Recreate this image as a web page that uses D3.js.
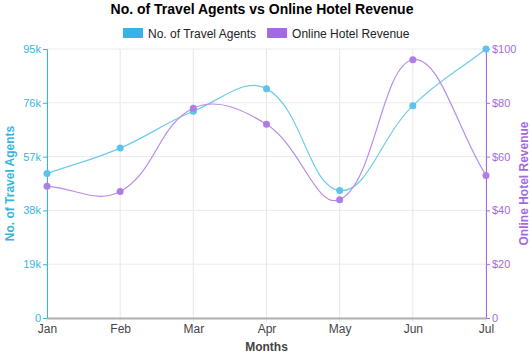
<!DOCTYPE html>
<html><head><meta charset="utf-8">
<script src="https://cdn.jsdelivr.net/npm/d3@7"></script>
<style>body{margin:0;background:#fff}svg{display:block;font-family:"Liberation Sans",Arial,sans-serif}</style>
</head><body><svg id="c" width="532" height="355"></svg>
<script>
const months = ["Jan","Feb","Mar","Apr","May","Jun","Jul"];
const agents = [51000, 60000, 73000, 81000, 45000, 75000, 95000];
const revenue = [49, 47, 78, 72, 44, 96, 53];
const agentTicks = [0, 19000, 38000, 57000, 76000, 95000];
const revenueTicks = [0, 20, 40, 60, 80, 100];

const W = 532, H = 355;
const m = {left: 47, right: 486, top: 49, bottom: 318};
const blue = "#36b5e2", purple = "#a36ae0";
const svg = d3.select("#c");

const x = d3.scalePoint().domain(months).range([m.left, m.right]);
const yL = d3.scaleLinear().domain([0, 95000]).range([m.bottom, m.top]);
const yR = d3.scaleLinear().domain([0, 100]).range([m.bottom, m.top]);

// grid
const g = svg.append("g");
g.selectAll("line.v").data(months).join("line")
  .attr("x1", d => x(d)).attr("x2", d => x(d)).attr("y1", m.top).attr("y2", m.bottom + 4)
  .attr("stroke", "#e6e6e6").attr("stroke-width", 1);
g.selectAll("line.h").data(agentTicks).join("line")
  .attr("x1", m.left).attr("x2", m.right).attr("y1", d => yL(d)).attr("y2", d => yL(d))
  .attr("stroke", "#ebebeb").attr("stroke-width", 1);

// chart.js-like spline
function spline(pts, t) {
  const p = d3.path();
  const n = pts.length;
  const cps = pts.map((c, i) => {
    const prev = pts[i - 1] || c, next = pts[i + 1] || c;
    const d01 = Math.hypot(c[0] - prev[0], c[1] - prev[1]);
    const d12 = Math.hypot(next[0] - c[0], next[1] - c[1]);
    let s01 = d01 / (d01 + d12), s12 = d12 / (d01 + d12);
    if (!isFinite(s01)) s01 = 0; if (!isFinite(s12)) s12 = 0;
    const fa = t * s01, fb = t * s12;
    return {
      px: c[0] - fa * (next[0] - prev[0]), py: c[1] - fa * (next[1] - prev[1]),
      nx: c[0] + fb * (next[0] - prev[0]), ny: c[1] + fb * (next[1] - prev[1])
    };
  });
  p.moveTo(pts[0][0], pts[0][1]);
  for (let i = 1; i < n; i++) {
    p.bezierCurveTo(cps[i - 1].nx, cps[i - 1].ny, cps[i].px, cps[i].py, pts[i][0], pts[i][1]);
  }
  return p.toString();
}

const ptsA = months.map((mm, i) => [x(mm), yL(agents[i])]);
const ptsR = months.map((mm, i) => [x(mm), yR(revenue[i])]);

// axes
const axL = svg.append("g").attr("transform", `translate(${m.left},0)`)
  .call(d3.axisLeft(yL).tickValues(agentTicks).tickSize(4).tickPadding(2)
    .tickFormat(d => d === 0 ? "0" : d3.format("d")(d / 1000) + "k"));
axL.select(".domain").attr("stroke", blue).attr("stroke-width", 1);
axL.selectAll(".tick line").attr("stroke", blue);
axL.selectAll(".tick text").attr("fill", blue).attr("font-size", 11).attr("font-family", "Liberation Sans, Arial, sans-serif");

const axR = svg.append("g").attr("transform", `translate(${m.right},0)`)
  .call(d3.axisRight(yR).tickValues(revenueTicks).tickSize(4).tickPadding(2)
    .tickFormat(d => d === 0 ? "0" : "$" + d));
axR.select(".domain").attr("stroke", purple).attr("stroke-width", 1);
axR.selectAll(".tick line").attr("stroke", purple);
axR.selectAll(".tick text").attr("fill", purple).attr("font-size", 11).attr("font-family", "Liberation Sans, Arial, sans-serif");

const axB = svg.append("g").attr("transform", `translate(0,${m.bottom})`)
  .call(d3.axisBottom(x).tickSize(0).tickPadding(6));
axB.select(".domain").attr("stroke", "#b0b0b0").attr("stroke-width", 2);
axB.selectAll(".tick text").attr("fill", "#444").attr("font-size", 12).attr("font-family", "Liberation Sans, Arial, sans-serif");

// lines
svg.append("path").attr("d", spline(ptsA, 0.4)).attr("fill", "none")
  .attr("stroke", "#6fcbec").attr("stroke-width", 1.2);
svg.append("path").attr("d", spline(ptsR, 0.4)).attr("fill", "none")
  .attr("stroke", "#b88ce8").attr("stroke-width", 1.2);

svg.append("g").selectAll("circle").data(ptsA).join("circle")
  .attr("cx", d => d[0]).attr("cy", d => d[1]).attr("r", 3.5)
  .attr("fill", "#5cc3ea");
svg.append("g").selectAll("circle").data(ptsR).join("circle")
  .attr("cx", d => d[0]).attr("cy", d => d[1]).attr("r", 3.5)
  .attr("fill", "#b07de6");

// title
svg.append("text").attr("x", 262).attr("y", 14).attr("text-anchor", "middle")
  .attr("font-size", 14).attr("font-weight", "bold").attr("fill", "#000")
  .text("No. of Travel Agents vs Online Hotel Revenue");

// legend
const legendItems = [["No. of Travel Agents", blue], ["Online Hotel Revenue", purple]];
const lg = svg.append("g");
let lx = 123;
legendItems.forEach(([label, col]) => {
  lg.append("rect").attr("x", lx).attr("y", 28).attr("width", 20).attr("height", 10).attr("fill", col);
  const t = lg.append("text").attr("x", lx + 25).attr("y", 38).attr("font-size", 12).attr("fill", "#222").text(label);
  lx += 25 + t.node().getComputedTextLength() + 11;
});

// axis titles
svg.append("text").attr("transform", `translate(14,${(m.top + m.bottom) / 2}) rotate(-90)`)
  .attr("text-anchor", "middle").attr("font-size", 12).attr("font-weight", "bold").attr("fill", blue)
  .text("No. of Travel Agents");
svg.append("text").attr("transform", `translate(528,${(m.top + m.bottom) / 2}) rotate(-90)`)
  .attr("text-anchor", "middle").attr("font-size", 12).attr("font-weight", "bold").attr("fill", purple)
  .text("Online Hotel Revenue");
svg.append("text").attr("x", (m.left + m.right) / 2).attr("y", 351).attr("text-anchor", "middle")
  .attr("font-size", 12).attr("font-weight", "bold").attr("fill", "#444").text("Months");
</script></body></html>
